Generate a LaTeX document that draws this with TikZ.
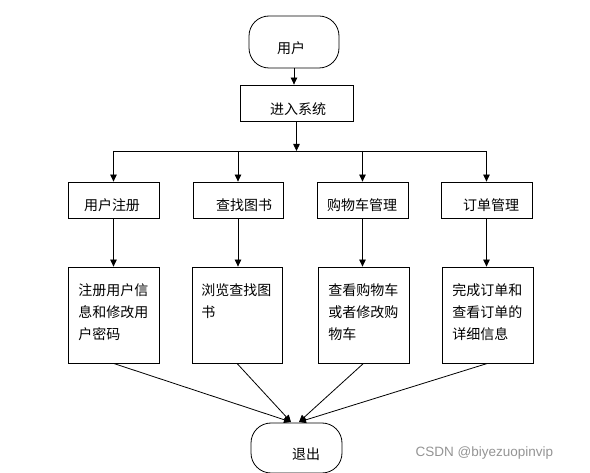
\documentclass[tikz,border=0pt]{standalone}
\usepackage{fontspec}
\setmainfont{Noto Sans CJK SC}
\setsansfont{Liberation Sans}
\usetikzlibrary{arrows.meta}
\begin{document}
\begin{tikzpicture}[x=1pt,y=-1pt,
  line width=0.8pt,
  arr/.style={-{Triangle[length=7pt,width=6.5pt]}},
  term/.style={draw,minimum width=90pt,minimum height=52pt,rounded corners=20pt,inner sep=0pt},
  boxa/.style={draw,minimum width=91pt,minimum height=36pt,inner sep=0pt},
  boxb/.style={draw,minimum width=91pt,minimum height=96pt,inner sep=0pt},
  txt/.style={inner sep=0pt,font=\fontsize{14}{21.7}\selectfont},
  ltxt/.style={txt,align=left,anchor=base west}]
\useasboundingbox (0,0) rectangle (590,473);
% terminators and boxes
\node[term] (user) at (294,42) {};
\node[txt] (userT) at (291,48) {用户};
\node[boxa,minimum width=113pt] (enter) at (296.5,103) {};
\node[txt] (enterT) at (298,109) {进入系统};
\node[boxa] (t1) at (113.5,200) {};
\node[boxa,minimum width=90pt] (t2) at (238,200) {};
\node[boxa] (t3) at (362.5,200) {};
\node[boxa] (t4) at (486.5,200) {};
\node[txt] (t1T) at (112,205) {用户注册};
\node[txt] (t2T) at (244,205) {查找图书};
\node[txt] (t3T) at (362,205) {购物车管理};
\node[txt] (t4T) at (491,205) {订单管理};
\node[boxb] (m1) at (113.5,315) {};
\node[boxb,minimum width=90pt] (m2) at (237,315) {};
\node[boxb] (m3) at (363.5,315) {};
\node[boxb] (m4) at (487.5,315) {};
% anchor base = baseline of last line; first baseline at 296
\node[ltxt] (m1T) at (78,339.4) {注册用户信\\息和修改用\\户密码};
\node[ltxt] (m2T) at (201,317.7) {浏览查找图\\书};
\node[ltxt] (m3T) at (328,339.4) {查看购物车\\或者修改购\\物车};
\node[ltxt] (m4T) at (452,339.4) {完成订单和\\查看订单的\\详细信息};
\node[term,minimum width=91pt,minimum height=50pt] (exit) at (296.5,448) {};
\node[txt] (exitT) at (306,454) {退出};
\node[inner sep=0pt,text=black!42,font=\sffamily\fontsize{13.5}{15}\selectfont] (wm) at (484.5,453) {CSDN @biyezuopinvip};
% connectors
\coordinate (hl) at (113,151);
\coordinate (hr) at (487,151);
\coordinate (e1) at (291,422);
\coordinate (e2) at (299,422);
\draw[arr] (user.south) -- (user.south |- enter.north);
\draw[arr] (enter.south) -- (enter.south |- hl);
\draw (hl) -- (hr);
\foreach \b in {t1,t2,t3,t4}{
  \draw[arr] (\b.north |- hl) -- (\b.north);
}
\draw[arr] (t1.south) -- (t1.south |- m1.north);
\draw[arr] (t2.south) -- (t2.south |- m2.north);
\draw[arr] (t3.south) -- (t3.south |- m3.north);
\draw[arr] (t4.south) -- (t4.south |- m4.north);
\draw[arr] (m1.south) -- (e1);
\draw[arr] (m2.south) -- (e1);
\draw[arr] (m3.south) -- (e2);
\draw[arr] (m4.south) -- (e2);
\end{tikzpicture}
\end{document}
